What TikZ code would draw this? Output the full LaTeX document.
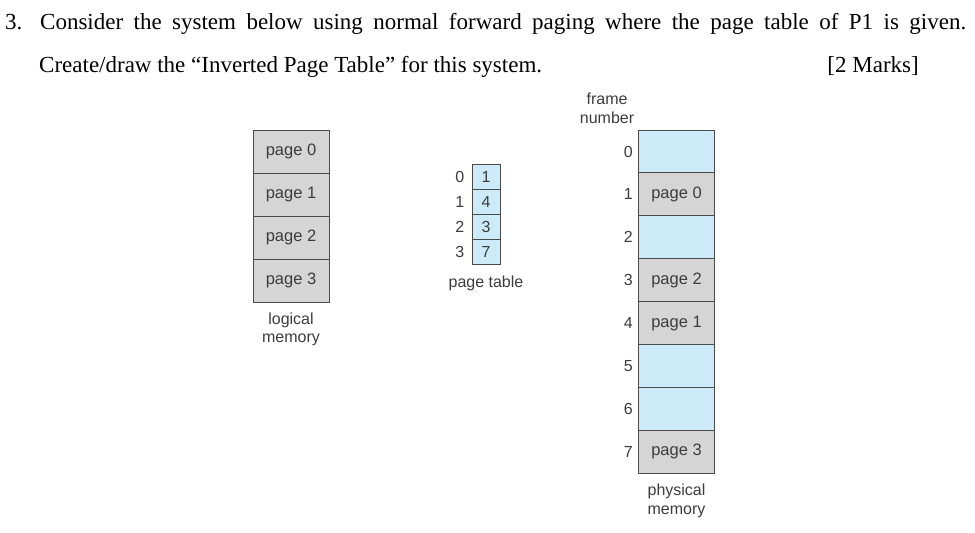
\documentclass[tikz,border=0pt]{standalone}
\usepackage{fontspec}
\setmainfont{Liberation Serif}
\newfontfamily\diagfont{Liberation Sans}
\usetikzlibrary{positioning}

\definecolor{pagegray}{HTML}{D5D5D5}
\definecolor{framefree}{HTML}{CDEAF8}
\definecolor{lineclr}{HTML}{4A4A4A}
\definecolor{txtclr}{HTML}{3C3C3C}

\tikzset{
  memcell/.style={rectangle, draw=lineclr, line width=0.9pt, inner sep=0pt,
    minimum width=76pt, minimum height=43pt, font=\diagfont\fontsize{16.5}{18}\selectfont, text=txtclr},
  usedcell/.style={memcell, fill=pagegray},
  freecell/.style={memcell, fill=framefree},
  ptcell/.style={rectangle, draw=lineclr, line width=0.9pt, inner sep=0pt, fill=framefree,
    minimum width=28pt, minimum height=25pt, font=\diagfont\fontsize{16}{18}\selectfont, text=txtclr},
  lbl/.style={inner sep=0pt, font=\diagfont\fontsize{16}{18.5}\selectfont, text=txtclr, align=center},
  hdr/.style={inner sep=0pt, font=\fontsize{23}{26}\selectfont}
}

\begin{document}
\begin{tikzpicture}[x=1pt, y=-1pt]
    \useasboundingbox (0,0) rectangle (975,533);

    % question text
    \node (QN) [hdr, anchor=base west] at (5,29) {3.};
    \node (Q1) [hdr, anchor=base west] at (40,29) {\makebox[926pt][s]{Consider the system below using normal forward paging where the page table of P1 is given.}};
    \node (Q2) [hdr, anchor=base west] at (39,72) {Create/draw the “Inverted Page Table” for this system.};
    \node (QM) [hdr, anchor=base east] at (919,72) {[2 Marks]};

    % logical memory
    \node (L0) [usedcell] at (291,151.5) {page 0};
    \node (L1) [usedcell] at (291,194.5) {page 1};
    \node (L2) [usedcell] at (291,237.5) {page 2};
    \node (L3) [usedcell] at (291,280.5) {page 3};
    \node (Llbl) [lbl, below=10pt of L3] {logical\\memory};

    % page table
    \node (T0) [ptcell] at (486,176.5) {1};
    \node (T1) [ptcell] at (486,201.5) {4};
    \node (T2) [ptcell] at (486,226.5) {3};
    \node (T3) [ptcell] at (486,251.5) {7};
    \node (I0) [lbl, left=7pt of T0] {0};
    \node (I1) [lbl, left=7pt of T1] {1};
    \node (I2) [lbl, left=7pt of T2] {2};
    \node (I3) [lbl, left=7pt of T3] {3};
    \node (Tlbl) [lbl, below=11pt of T3] {page table};

    % physical memory
    \node (F0) [freecell] at (676.5,151.5) {};
    \node (F1) [usedcell] at (676.5,194.4) {page 0};
    \node (F2) [freecell] at (676.5,237.3) {};
    \node (F3) [usedcell] at (676.5,280.2) {page 2};
    \node (F4) [usedcell] at (676.5,323.1) {page 1};
    \node (F5) [freecell] at (676.5,366) {};
    \node (F6) [freecell] at (676.5,408.9) {};
    \node (F7) [usedcell] at (676.5,451.8) {page 3};
    \node (N0) [lbl, left=5pt of F0] {0};
    \node (N1) [lbl, left=5pt of F1] {1};
    \node (N2) [lbl, left=5pt of F2] {2};
    \node (N3) [lbl, left=5pt of F3] {3};
    \node (N4) [lbl, left=5pt of F4] {4};
    \node (N5) [lbl, left=5pt of F5] {5};
    \node (N6) [lbl, left=5pt of F6] {6};
    \node (N7) [lbl, left=5pt of F7] {7};
    \node (Flbl) [lbl, above=6pt of F0.north west, xshift=-31pt] {frame\\number};
    \node (Plbl) [lbl, below=10pt of F7] {physical\\memory};
\end{tikzpicture}
\end{document}
